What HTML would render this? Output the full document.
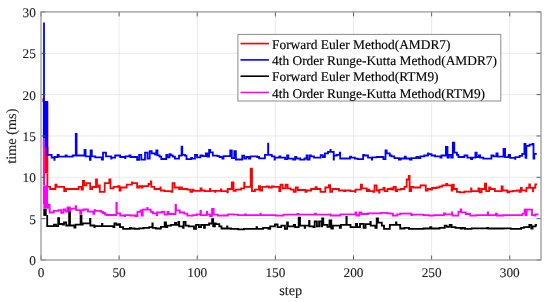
<!DOCTYPE html><html><head><meta charset="utf-8"><style>html,body{margin:0;padding:0;background:#fff;}svg{display:block;text-rendering:geometricPrecision;}</style></head><body><svg width="550" height="302" viewBox="0 0 550 302"><rect x="0" y="0" width="550" height="302" fill="#fff"/><path d="M119.12 11.9V260.0 M197.25 11.9V260.0 M275.38 11.9V260.0 M353.50 11.9V260.0 M431.62 11.9V260.0 M509.75 11.9V260.0 M41.0 218.65H541.0 M41.0 177.30H541.0 M41.0 135.95H541.0 M41.0 94.60H541.0 M41.0 53.25H541.0" stroke="#e6e6e6" stroke-width="0.8" fill="none"/><g fill="none" stroke-width="1.8" stroke-linejoin="miter" stroke-linecap="butt"><rect x="42.4" y="98.2" width="1.6" height="4" fill="#ff0000" stroke="none"/><rect x="43.3" y="101.5" width="5.0" height="71.8" fill="#ff0000" stroke="none"/><rect x="46.5" y="173.3" width="1.8" height="12.5" fill="#ff0000" stroke="none"/><path d="M47.1 185.5V186.8H50.2L50.2 189.0H55.4L55.4 184.6H56.6L56.6 186.8H64.2L64.2 191.2H66.0L66.0 189.0H78.7L78.7 186.8H81.5L81.5 189.7H82.9L82.9 181.0H84.4L84.4 185.4H86.5L86.5 183.2H90.2L90.2 189.0H92.2L92.2 187.0H96.0L96.0 179.5H97.0L97.0 186.8H98.9L98.9 185.4H99.8L99.8 191.9H104.7L104.7 183.2H109.3L109.3 179.5H110.5L110.5 188.3H113.5L113.5 186.8H118.2L118.2 186.1H119.5L119.5 190.5H120.7L120.7 187.5H126.7L126.7 184.6H132.0L132.0 182.5H132.4L132.4 183.2H137.1L137.1 187.5H139.1L139.1 186.1H141.3L141.3 187.5H142.6L142.6 186.1H148.5L148.5 184.0H150.9L150.9 181.3H151.3L151.3 186.8H154.4L154.4 189.0H160.4L160.4 187.5H160.7L160.7 190.5H164.5L164.5 191.2H171.3L171.3 191.9H172.5L172.5 183.2H174.6L174.6 187.5H179.1L179.1 189.0H180.0L180.0 187.5H182.0L182.0 189.0H187.3L187.3 189.7H190.4L190.4 191.9H192.4L192.4 189.7H193.6L193.6 190.9H200.5L200.5 188.3H201.6L201.6 190.5H204.7L204.7 191.2H210.0L210.0 189.0H210.4L210.4 190.9H215.1L215.1 191.9H215.5L215.5 190.9H220.9L220.9 189.4H221.3L221.3 191.2H227.4L227.4 192.3H227.8L227.8 189.0H231.8L231.8 182.5H233.5L233.5 190.9H235.8L235.8 189.7H241.1L241.1 188.3H244.2L244.2 182.7H244.6L244.6 186.8H250.7L250.7 168.6H252.0L252.0 191.2H254.9L254.9 189.7H258.9L258.9 186.1H260.2L260.2 190.5H262.2L262.2 186.8H266.9L266.9 186.5H268.9L268.9 187.5H271.8L271.8 186.5H273.8L273.8 186.8H279.3L279.3 191.2H280.5L280.5 184.6H282.7L282.7 188.3H285.6L285.6 184.6H287.6L287.6 188.3H290.7L290.7 189.7H293.8L293.8 191.9H295.8L295.8 187.5H297.8L297.8 190.0H305.4L305.4 191.9H306.6L306.6 190.5H311.1L311.1 189.0H315.6L315.6 187.1H316.7L316.7 189.0H320.5L320.5 191.9H325.3L325.3 187.5H328.9L328.9 185.1H330.2L330.2 191.9H332.2L332.2 189.0H338.9L338.9 190.5H344.2L344.2 191.2H345.3L345.3 190.5H350.5L350.5 191.2H355.1L355.1 191.9H355.5L355.5 189.7H360.9L360.9 184.6H362.0L362.0 188.3H366.7L366.7 191.2H368.0L368.0 189.7H369.3L369.3 191.2H373.3L373.3 191.9H374.5L374.5 185.4H376.6L376.6 190.5H379.1L379.1 192.6H379.5L379.5 189.7H383.4L383.4 188.0H384.7L384.7 191.2H387.5L387.5 189.0H390.9L390.9 188.3H392.2L392.2 189.7H393.6L393.6 186.8H395.8L395.8 191.2H397.1L397.1 189.7H400.9L400.9 189.0H404.5L404.5 186.8H406.7L406.7 179.5H408.8L408.8 175.9H409.6L409.6 191.2H411.1L411.1 186.8H413.1L413.1 187.5H420.5L420.5 185.4H425.8L425.8 190.5H427.8L427.8 189.0H430.7L430.7 189.7H432.0L432.0 188.0H436.5L436.5 187.5H439.5L439.5 186.5H442.4L442.4 185.4H446.2L446.2 183.9H447.3L447.3 185.4H451.7L451.7 190.5H452.5L452.5 184.6H453.8L453.8 189.0H456.9L456.9 191.9H459.8L459.8 192.3H464.4L464.4 191.6H471.1L471.1 188.3H471.5L471.5 191.2H478.4L478.4 188.3H479.6L479.6 192.3H481.6L481.6 189.0H484.9L484.9 183.6H486.2L486.2 191.2H489.1L489.1 187.5H490.4L490.4 189.0H494.9L494.9 191.2H501.6L501.6 186.5H502.7L502.7 190.5H507.4L507.4 192.3H509.3L509.3 191.4H513.0L513.0 190.9H516.9L516.9 190.4H519.4L519.4 191.9H520.9L520.9 187.9H521.8L521.8 190.4H526.2L526.2 191.4H526.5L526.5 187.9H529.3L529.3 184.4H530.0L530.0 187.9H532.8L532.8 191.4H533.0L533.0 187.9H535.3L535.3 184.4H537.3" stroke="#ff0000"/><rect x="42.9" y="101.0" width="5.2" height="46.6" fill="#0000ff" stroke="none"/><path d="M44.0 22.6V101.5 M47.5 147V154.8H51.6L51.6 157.5H54.4L54.4 159.9H54.6L54.6 157.0H57.6L57.6 154.8H58.7L58.7 156.7H65.6L65.6 155.5H66.7L66.7 156.7H72.7L72.7 155.5H75.8L75.8 134.0H76.6L76.6 155.5H84.5L84.5 150.0H85.6L85.6 156.3H89.9L89.9 159.9H90.6L90.6 150.5H91.8L91.8 156.3H95.3L95.3 157.3H101.9L101.9 159.6H103.0L103.0 152.6H106.0L106.0 156.3H111.2L111.2 158.5H111.5L111.5 157.7H115.1L115.1 155.5H120.2L120.2 157.0H125.1L125.1 158.2H125.4L125.4 156.3H129.4L129.4 155.5H130.6L130.6 157.0H137.1L137.1 159.9H139.1L139.1 154.8H141.3L141.3 159.6H145.0L145.0 152.6H147.5L147.5 158.6H149.7L149.7 151.2H151.7L151.7 153.3H155.1L155.1 154.5H156.3L156.3 150.4H157.5L157.5 155.3H159.6L159.6 156.6H161.3L161.3 159.0H166.3L166.3 154.9H167.5L167.5 157.4H169.5L169.5 154.1H170.7L170.7 155.3H172.8L172.8 156.6H174.9L174.9 158.6H179.0L179.0 155.7H181.6L181.6 146.6H182.3L182.3 154.9H184.9L184.9 155.7H186.5L186.5 159.2H191.2L191.2 157.8H192.1L192.1 158.6H195.0L195.0 154.9H197.1L197.1 157.3H200.4L200.4 155.3H202.5L202.5 156.1H205.8L205.8 153.3H207.5L207.5 156.5H209.1L209.1 149.9H210.3L210.3 152.4H212.8L212.8 155.7H217.4L217.4 156.1H219.5L219.5 157.0H222.4L222.4 158.6H223.5L223.5 156.1H230.2L230.2 150.4H231.8L231.8 158.2H234.3L234.3 151.2H235.9L235.9 159.5H242.2L242.2 155.7H244.2L244.2 158.6H246.3L246.3 157.0H248.8L248.8 158.6H250.4L250.4 156.3H257.1L257.1 157.0H259.1L259.1 158.4H264.9L264.9 154.8H268.1L268.1 143.6H268.3L268.3 154.8H271.8L271.8 156.3H274.6L274.6 159.6H274.9L274.9 157.7H279.3L279.3 156.3H280.4L280.4 157.7H285.1L285.1 159.2H287.1L287.1 155.5H288.4L288.4 158.7H293.1L293.1 159.6H295.1L295.1 157.0H296.4L296.4 158.5H300.2L300.2 159.6H304.5L304.5 158.5H306.6L306.6 155.5H307.5L307.5 159.6H309.6L309.6 155.5H310.9L310.9 156.3H314.0L314.0 157.7H320.7L320.7 155.2H322.9L322.9 157.0H324.9L324.9 153.4H328.0L328.0 151.9H330.4L330.4 150.0H330.7L330.7 151.9H333.7L333.7 159.6H333.9L333.9 155.5H336.7L336.7 154.8H339.8L339.8 152.6H340.2L340.2 158.5H350.0L350.0 156.7H351.1L351.1 157.7H354.9L354.9 158.7H357.8L357.8 159.2H363.1L363.1 154.8H364.2L364.2 155.5H368.0L368.0 157.7H371.8L371.8 159.6H372.2L372.2 157.3H376.7L376.7 157.0H383.4L383.4 159.2H385.5L385.5 150.5H386.7L386.7 153.4H389.8L389.8 155.5H391.5L391.5 156.3H394.4L394.4 158.2H398.9L398.9 159.6H400.7L400.7 158.5H404.7L404.7 156.7H405.8L405.8 158.5H409.8L409.8 159.6H411.6L411.6 158.2H416.4L416.4 157.0H418.4L418.4 158.2H420.4L420.4 156.3H424.2L424.2 155.5H428.0L428.0 153.4H428.4L428.4 154.1H431.5L431.5 155.5H435.1L435.1 156.3H440.4L440.4 157.7H441.5L441.5 155.5H445.9L445.9 146.8H447.5L447.5 157.7H448.9L448.9 154.8H451.1L451.1 157.7H452.8L452.8 142.7H454.3L454.3 152.6H456.9L456.9 154.8H458.4L458.4 157.0H464.4L464.4 155.5H467.1L467.1 155.3H467.4L467.4 157.7H471.1L471.1 159.2H472.2L472.2 157.7H475.4L475.4 152.6H476.7L476.7 157.0H478.9L478.9 155.5H480.2L480.2 157.7H483.3L483.3 158.7H491.4L491.4 155.5H493.5L493.5 156.3H496.4L496.4 153.4H497.6L497.6 156.7H503.5L503.5 149.0H505.1L505.1 157.2H508.6L508.6 154.9H510.1L510.1 157.8H515.1L515.1 158.9H515.4L515.4 157.2H519.6L519.6 155.8H522.2L522.2 153.8H524.4L524.4 143.9H525.5L525.5 157.8H526.4L526.4 145.9H529.5L529.5 144.6H532.4L532.4 143.9H533.5L533.5 158.5H534.3L534.3 153.8H536.8" stroke="#0000ff"/><rect x="43.3" y="208.6" width="3.4" height="7.3" fill="#000000" stroke="none"/><path d="M47.2 215V226.2H54.0L54.0 224.7H56.0L56.0 226.2H58.2L58.2 218.2H59.1L59.1 224.0H62.7L62.7 224.7H64.0L64.0 222.5H66.2L66.2 225.5H69.1L69.1 208.7H70.0L70.0 225.5H74.4L74.4 227.6H75.5L75.5 224.7H80.6L80.6 216.0H81.5L81.5 224.7H82.7L82.7 223.3H90.0L90.0 218.9H90.4L90.4 225.5H94.4L94.4 227.0H94.7L94.7 226.2H102.0L102.0 224.0H102.4L102.4 226.2H113.4L113.4 227.0H114.4L114.4 223.5H116.5L116.5 224.9H118.7L118.7 224.2H120.0L120.0 227.1H123.1L123.1 228.8H129.8L129.8 227.8H130.9L130.9 228.5H134.7L134.7 228.8H139.1L139.1 228.3H143.5L143.5 227.8H149.3L149.3 227.1H152.4L152.4 223.5H152.7L152.7 227.8H155.8L155.8 228.5H160.9L160.9 226.8H164.7L164.7 222.4H166.0L166.0 227.1H167.3L167.3 225.6H171.1L171.1 224.9H174.9L174.9 223.0H176.2L176.2 224.9H178.4L178.4 222.0H179.2L179.2 226.4H183.0L183.0 227.8H183.6L183.6 222.0H185.6L185.6 225.6H188.7L188.7 226.4H194.0L194.0 228.8H196.0L196.0 224.9H198.9L198.9 227.1H201.1L201.1 224.9H204.0L204.0 227.8H204.9L204.9 224.9H209.1L209.1 223.5H212.1L212.1 219.1H213.2L213.2 226.4H214.9L214.9 223.5H215.8L215.8 224.2H219.3L219.3 226.4H221.5L221.5 228.5H227.1L227.1 226.4H227.4L227.4 228.5H230.9L230.9 228.8H238.2L238.2 229.3H244.0L244.0 228.8H256.5L256.5 227.1H257.1L257.1 228.8H263.1L263.1 227.8H268.4L268.4 228.8H270.2L270.2 226.4H274.9L274.9 224.5H277.6L277.6 227.1H281.3L281.3 225.6H284.9L284.9 228.8H287.1L287.1 222.4H287.9L287.9 226.4H293.8L293.8 224.9H295.1L295.1 227.1H298.7L298.7 217.6H300.0L300.0 225.6H304.7L304.7 227.8H305.1L305.1 225.6H309.1L309.1 221.0H309.5L309.5 226.4H313.4L313.4 227.1H314.7L314.7 221.3H316.9L316.9 226.4H319.1L319.1 221.3H321.3L321.3 226.4H322.2L322.2 218.4H323.3L323.3 224.9H327.4L327.4 226.8H329.5L329.5 220.5H331.3L331.3 228.5H332.9L332.9 225.6H339.8L339.8 227.8H340.9L340.9 224.9H346.4L346.4 216.9H346.7L346.7 224.9H350.5L350.5 227.1H355.8L355.8 223.9H357.1L357.1 227.1H360.0L360.0 223.9H363.6L363.6 227.8H365.6L365.6 224.2H370.4L370.4 222.0H370.7L370.7 225.6H375.4L375.4 227.8H376.7L376.7 218.4H378.0L378.0 222.7H381.8L381.8 225.6H384.0L384.0 228.8H389.8L389.8 224.9H392.2L392.2 224.9H396.0L396.0 222.4H396.4L396.4 224.9H400.2L400.2 228.5H404.5L404.5 227.8H408.9L408.9 228.8H423.5L423.5 228.5H430.2L430.2 227.1H431.3L431.3 228.5H439.5L439.5 227.8H444.7L444.7 225.6H446.7L446.7 226.8H449.6L449.6 224.9H451.6L451.6 227.1H455.5L455.5 227.8H460.7L460.7 228.5H462.7L462.7 227.8H464.9L464.9 228.8H471.6L471.6 228.3H487.1L487.1 227.8H488.2L488.2 228.5H503.6L503.6 228.3H510.9L510.9 228.8H521.1L521.1 227.8H524.0L524.0 227.1H529.3L529.3 224.9H531.3L531.3 228.5H532.6L532.6 226.4H535.6L535.6 224.9H537.0" stroke="#000000"/><rect x="43.0" y="137.9" width="2.0" height="47.6" fill="#ff00ff" stroke="none"/><rect x="43.0" y="185.5" width="5.0" height="18.5" fill="#ff00ff" stroke="none"/><rect x="43.3" y="204" width="7.3" height="4.6" fill="#ff00ff" stroke="none"/><path d="M49.7 208V212.5H53.8L53.8 210.9H58.4L58.4 210.2H61.1L61.1 212.8H63.3L63.3 209.5H65.5L65.5 211.6H67.6L67.6 207.3H69.8L69.8 210.9H70.7L70.7 208.7H75.8L75.8 206.1H76.2L76.2 210.2H80.2L80.2 213.8H81.3L81.3 210.2H83.6L83.6 209.5H88.0L88.0 211.6H93.3L93.3 213.8H94.5L94.5 210.2H95.4L95.4 210.9H101.1L101.1 211.8H103.0L103.0 213.0H105.0L105.0 214.5H106.9L106.9 215.0H116.4L116.4 202.9H116.8L116.8 213.3H120.2L120.2 215.5H124.7L124.7 216.2H125.1L125.1 215.2H130.4L130.4 215.5H135.6L135.6 216.2H137.5L137.5 211.8H140.6L140.6 210.4H141.7L141.7 215.5H142.8L142.8 209.6H147.3L147.3 207.9H147.6L147.6 209.6H150.7L150.7 211.8H152.9L152.9 213.3H156.7L156.7 215.2H157.1L157.1 212.5H161.8L161.8 211.8H164.5L164.5 214.7H167.5L167.5 211.8H168.7L168.7 214.0H175.6L175.6 205.0H176.0L176.0 210.4H179.8L179.8 212.5H184.2L184.2 213.7H187.3L187.3 215.7H193.1L193.1 215.2H196.7L196.7 214.3H200.5L200.5 210.8H200.9L200.9 215.2H206.8L206.8 211.8H207.1L207.1 214.3H210.0L210.0 216.2H212.0L212.0 208.9H213.7L213.7 214.7H217.8L217.8 215.7H222.2L222.2 215.5H228.0L228.0 214.3H233.8L233.8 214.7H238.2L238.2 215.2H244.9L244.9 214.3H246.0L246.0 215.2H260.4L260.4 213.7H260.7L260.7 215.2H276.2L276.2 215.7H283.5L283.5 214.7H297.4L297.4 214.0H298.6L298.6 214.7H314.9L314.9 213.7H316.0L316.0 214.7H329.6L329.6 214.3H330.7L330.7 215.5H340.4L340.4 214.3H355.5L355.5 212.5H356.4L356.4 215.5H359.3L359.3 212.5H361.3L361.3 214.0H368.0L368.0 213.3H381.1L381.1 212.8H386.9L386.9 213.3H390.0L390.0 213.7H392.9L392.9 215.7H397.3L397.3 214.3H400.2L400.2 213.7H411.3L411.3 215.2H412.4L412.4 214.7H423.5L423.5 215.2H429.3L429.3 215.7H433.6L433.6 215.2H444.0L444.0 213.3H445.1L445.1 214.3H452.0L452.0 212.5H452.4L452.4 215.7H458.4L458.4 211.8H460.7L460.7 209.5H461.3L461.3 212.3H465.8L465.8 214.0H470.2L470.2 215.7H476.0L476.0 215.2H487.8L487.8 212.5H488.2L488.2 215.2H495.8L495.8 213.7H496.9L496.9 215.5H503.6L503.6 215.2H522.5L522.5 213.7H524.6L524.6 209.6H525.5L525.5 215.2H526.7L526.7 209.6H532.0L532.0 215.2H535.1L535.1 215.5H535.5L535.5 214.3H538.5" stroke="#ff00ff"/></g><path d="M41.00 260.0v-4.5 M41.00 11.9v4.5 M119.12 260.0v-4.5 M119.12 11.9v4.5 M197.25 260.0v-4.5 M197.25 11.9v4.5 M275.38 260.0v-4.5 M275.38 11.9v4.5 M353.50 260.0v-4.5 M353.50 11.9v4.5 M431.62 260.0v-4.5 M431.62 11.9v4.5 M509.75 260.0v-4.5 M509.75 11.9v4.5 M41.0 260.00h4.5 M541.0 260.00h-4.5 M41.0 218.65h4.5 M541.0 218.65h-4.5 M41.0 177.30h4.5 M541.0 177.30h-4.5 M41.0 135.95h4.5 M541.0 135.95h-4.5 M41.0 94.60h4.5 M541.0 94.60h-4.5 M41.0 53.25h4.5 M541.0 53.25h-4.5 M41.0 11.90h4.5 M541.0 11.90h-4.5" stroke="#505050" stroke-width="0.9" fill="none"/><rect x="41.0" y="11.9" width="500.0" height="248.1" fill="none" stroke="#9a9a9a" stroke-width="1.3"/><g font-family="Liberation Serif, serif" font-size="13.3" fill="#1e1e1e" stroke="#1e1e1e" stroke-width="0.12"><text x="41.00" y="277.3" text-anchor="middle">0</text><text x="119.12" y="277.3" text-anchor="middle">50</text><text x="197.25" y="277.3" text-anchor="middle">100</text><text x="275.38" y="277.3" text-anchor="middle">150</text><text x="353.50" y="277.3" text-anchor="middle">200</text><text x="431.62" y="277.3" text-anchor="middle">250</text><text x="509.75" y="277.3" text-anchor="middle">300</text><text x="35.9" y="265.00" text-anchor="end">0</text><text x="35.9" y="223.65" text-anchor="end">5</text><text x="35.9" y="182.30" text-anchor="end">10</text><text x="35.9" y="140.95" text-anchor="end">15</text><text x="35.9" y="99.60" text-anchor="end">20</text><text x="35.9" y="58.25" text-anchor="end">25</text><text x="35.9" y="16.90" text-anchor="end">30</text></g><text x="290.7" y="295" text-anchor="middle" font-family="Liberation Serif, serif" font-size="14.3" fill="#1e1e1e" stroke="#1e1e1e" stroke-width="0.12">step</text><text transform="translate(16.2 136.2) rotate(-90)" text-anchor="middle" font-family="Liberation Serif, serif" font-size="14.3" fill="#1e1e1e" stroke="#1e1e1e" stroke-width="0.12">time (ms)</text><rect x="237.9" y="34.4" width="262.9" height="66.6" fill="#fff" stroke="#8c8c8c" stroke-width="1"/><path d="M240.5 43.60H269" stroke="#ff0000" stroke-width="1.6"/><text x="272" y="48.80" font-family="Liberation Serif, serif" font-size="13.4" fill="#000" stroke="#000" stroke-width="0.15">Forward Euler Method(AMDR7)</text><path d="M240.5 59.90H269" stroke="#0000ff" stroke-width="1.6"/><text x="272" y="65.10" font-family="Liberation Serif, serif" font-size="13.4" fill="#000" stroke="#000" stroke-width="0.15">4th Order Runge-Kutta Method(AMDR7)</text><path d="M240.5 76.20H269" stroke="#000000" stroke-width="1.6"/><text x="272" y="81.40" font-family="Liberation Serif, serif" font-size="13.4" fill="#000" stroke="#000" stroke-width="0.15">Forward Euler Method(RTM9)</text><path d="M240.5 92.50H269" stroke="#ff00ff" stroke-width="1.6"/><text x="272" y="97.70" font-family="Liberation Serif, serif" font-size="13.4" fill="#000" stroke="#000" stroke-width="0.15">4th Order Runge-Kutta Method(RTM9)</text></svg></body></html>
